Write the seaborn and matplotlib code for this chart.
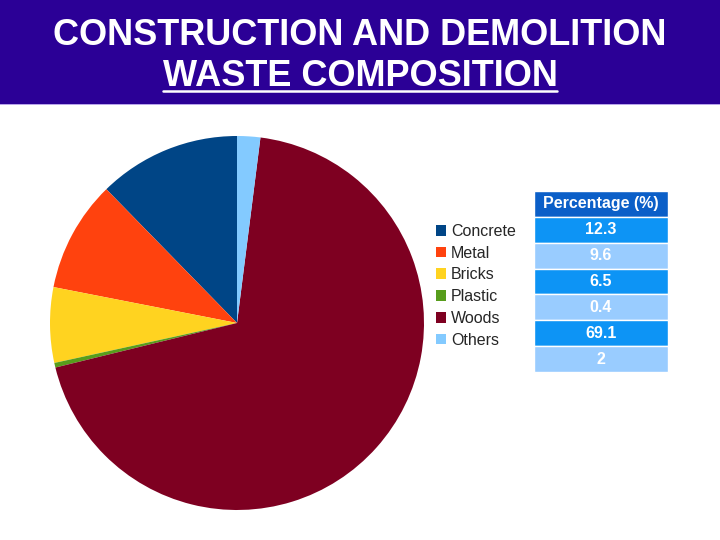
import matplotlib
matplotlib.use("Agg")
import matplotlib.pyplot as plt
import seaborn as sns
from matplotlib.patches import Rectangle
from matplotlib.lines import Line2D

# waste composition data
materials = ['Concrete', 'Metal', 'Bricks', 'Plastic', 'Woods', 'Others']
percent = [12.3, 9.6, 6.5, 0.4, 69.1, 2]
percent_labels = ['12.3', '9.6', '6.5', '0.4', '69.1', '2']
colors = ['#004586', '#ff420e', '#ffd320', '#579d1c', '#7e0021', '#83caff']

title_1 = 'CONSTRUCTION AND DEMOLITION'
title_2 = 'WASTE COMPOSITION'
table_header = 'Percentage (%)'

sns.set_theme(style='white')
plt.rcParams['font.family'] = ['Liberation Sans', 'DejaVu Sans']

W, H = 720, 540
fig = plt.figure(figsize=(7.2, 5.4), dpi=100)
fig.patch.set_facecolor('white')

def px(x, y, w, h):
    # pixel box (from top-left) -> figure fraction
    return [x / W, (H - y - h) / H, w / W, h / H]

# title banner
fig.add_artist(Rectangle((0, 1 - 103.5 / H), 1, 103.5 / H, transform=fig.transFigure,
                         facecolor='#2b0096', edgecolor='none', zorder=0))
fig.add_artist(Rectangle((0, 1 - 105 / H), 1, 1.5 / H, transform=fig.transFigure,
                         facecolor='#b8a4ea', edgecolor='none', zorder=0))
fig.text(0.5, (H - 45) / H, title_1, ha='center', va='baseline', color='white',
         fontsize=26, fontweight='bold')
t2 = fig.text(0.5, (H - 86) / H, title_2, ha='center', va='baseline', color='white',
              fontsize=26, fontweight='bold')

# underline for the second title line
fig.canvas.draw()
bb = t2.get_window_extent().transformed(fig.transFigure.inverted())
fig.add_artist(Line2D([bb.x0, bb.x1], [(H - 90.5) / H] * 2, transform=fig.transFigure,
                      color='white', lw=1.8))

# pie chart
ax = fig.add_axes(px(50, 136, 374, 374))
wedges, _ = ax.pie(percent, colors=colors, startangle=90, counterclock=True,
                   radius=1, wedgeprops=dict(linewidth=0))
ax.set_xlim(-1, 1)
ax.set_ylim(-1, 1)
ax.set_aspect('equal')
ax.axis('off')

fig.legend(wedges, materials, loc='upper left',
           bbox_to_anchor=(436 / W, (H - 224) / H), frameon=False,
           fontsize=11.5, handlelength=0.65, handleheight=0.65,
           handletextpad=0.3, labelspacing=0.42, borderpad=0, borderaxespad=0)

# percentage table
tax = fig.add_axes(px(534, 191, 134, 181))
tax.axis('off')
cell_text = [[table_header]] + [[v] for v in percent_labels]
row_cols = ['#0b5fc8'] + ['#0d94f5' if i % 2 == 0 else '#99ccff' for i in range(len(percent_labels))]
tbl = tax.table(cellText=cell_text, cellColours=[[c] for c in row_cols],
                cellLoc='center', bbox=[0, 0, 1, 1])
tbl.auto_set_font_size(False)
for (r, c), cell in tbl.get_celld().items():
    cell.set_edgecolor('white')
    cell.set_linewidth(1)
    cell.get_text().set_color('white')
    cell.get_text().set_fontweight('bold')
    cell.get_text().set_fontsize(11.5)

fig.savefig('out.png', dpi=100, facecolor='white')
